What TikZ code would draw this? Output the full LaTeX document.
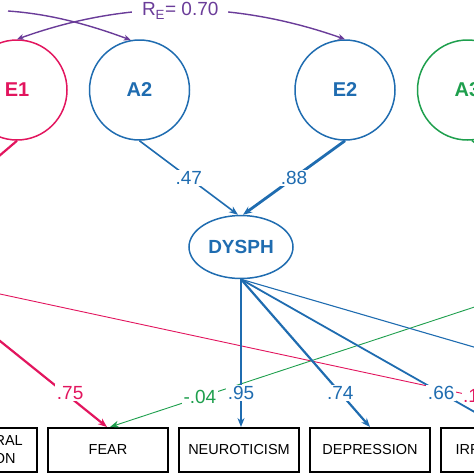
\documentclass[tikz,border=0pt]{standalone}
\usepackage{fontspec}
\setmainfont{Liberation Sans}
\usepackage{xcolor}
\definecolor{dysBlue}{HTML}{1F6CB0}
\definecolor{facRed}{HTML}{E2155E}
\definecolor{facGreen}{HTML}{1E9F4D}
\definecolor{corrPurple}{HTML}{6A3C99}
\usepackage{tikz}
\usetikzlibrary{positioning, arrows.meta, shapes.geometric}

\begin{document}
\begin{tikzpicture}[
  x=1pt, y=-1pt,
  every node/.style={font=\fontsize{19}{21}\selectfont},
  latent/.style={circle, line width=1.5pt, minimum size=100pt, inner sep=0pt,
                 font=\fontsize{20}{22}\selectfont\bfseries},
  indicator/.style={rectangle, draw=black, line width=2pt, minimum width=120pt,
                    minimum height=44pt, inner sep=0pt, align=center,
                    font=\fontsize{14.5}{18}\selectfont},
  coef/.style={fill=white, inner sep=1.5pt},
  arrow/.style={-{Stealth[length=9pt, width=7pt]}},
  corr/.style={color=corrPurple, line width=1.4pt},
]
\useasboundingbox (0,0) rectangle (474,474);
\clip (0,0) rectangle (474,474);

% Latent factors
\node[latent, draw=facRed, text=facRed] (E1) at (17,90) {E1};
\node[latent, draw=dysBlue, text=dysBlue, right=21pt of E1] (A2) {A2};
\node[latent, draw=dysBlue, text=dysBlue, right=104pt of A2] (E2) {E2};
\node[latent, draw=facGreen, text=facGreen, right=21pt of E2] (A3) {A3};

% Dysphoria factor
\node[ellipse, draw=dysBlue, line width=1.5pt, minimum width=104pt, minimum height=63pt,
      inner sep=0pt, text=dysBlue, font=\fontsize{19}{21}\selectfont\bfseries]
      (DYSPH) at (241,247) {DYSPH};

% Indicators
\node[indicator] (FEAR) at (108,450) {FEAR};
\node[indicator, left=9pt of FEAR] (BEHAV) {BEHAVIORAL\\INHIBITION};
\node[indicator, right=9pt of FEAR] (NEURO) {NEUROTICISM};
\node[indicator, right=9pt of NEURO] (DEPR) {DEPRESSION};
\node[indicator, right=9pt of DEPR] (IRR) {IRRITABILITY};

% Ends outside the frame
\coordinate (rA) at (8,11);
\coordinate (srcRed) at (-250,140);
\coordinate (srcThin) at (-200,251);
\coordinate (srcGreen) at (1000,134);
\coordinate (bxZero) at (-320,428);
\coordinate (bxFive) at (623,428);
\coordinate (bxSix) at (752,428);
\coordinate (bxGreen) at (850,428);

% Correlations
\draw[corr, -{Stealth[length=7pt, width=6pt]}] (rA) .. controls (51,14) and (90,25) .. (A2.100);
\draw[corr, {Stealth[length=7pt, width=6pt]}-{Stealth[length=7pt, width=6pt]}]
  (E1.north) .. controls (126,0) and (234,0) .. node[fill=white, inner xsep=10pt, inner ysep=2pt,
  text=corrPurple, pos=.5, yshift=-1pt] (rE) {R\textsubscript{E}= 0.70} (E2.north);

% Cross loadings
\draw[facRed, line width=0.9pt] (srcThin) -- node[coef, text=facRed, pos=.821] (c13) {.11} (bxFive);
\draw[facGreen, line width=0.9pt, arrow] (srcGreen) -- node[coef, text=facGreen, pos=.899] (c04) {-.04} ([xshift=2pt]FEAR.north);
\draw[facRed, line width=2.2pt, arrow] (srcRed) -- node[coef, text=facRed, pos=.88, xshift=6pt] (c75) {.75} ([xshift=-1pt]FEAR.north);
\draw[facRed, line width=2.2pt, arrow] (E1.south) -- (bxZero);
\draw[facGreen, line width=1.5pt, arrow] (A3.-85) -- (bxGreen);

% Paths into DYSPH
\draw[dysBlue, line width=1.6pt, arrow] (A2.south) -- node[coef, text=dysBlue, pos=.5] (c47) {.47} ([xshift=-3pt]DYSPH.north);
\draw[dysBlue, line width=2.8pt, arrow] (E2.south) -- node[coef, text=dysBlue, pos=.5] (c88) {.88} ([xshift=2pt]DYSPH.north);

% Loadings of DYSPH
\draw[dysBlue, line width=1.1pt, arrow] (DYSPH.south) -- (bxSix);
\draw[dysBlue, line width=1.8pt, arrow] (DYSPH.south) -- node[coef, text=dysBlue, pos=.77] (c66) {.66} (IRR.north);
\draw[dysBlue, line width=2.2pt, arrow] (DYSPH.south) -- node[coef, text=dysBlue, pos=.77] (c74) {.74} (DEPR.north);
\draw[dysBlue, line width=2.4pt, arrow] (DYSPH.south) -- node[coef, text=dysBlue, pos=.77] (c95) {.95} (DYSPH.south |- NEURO.north);

\end{tikzpicture}
\end{document}
